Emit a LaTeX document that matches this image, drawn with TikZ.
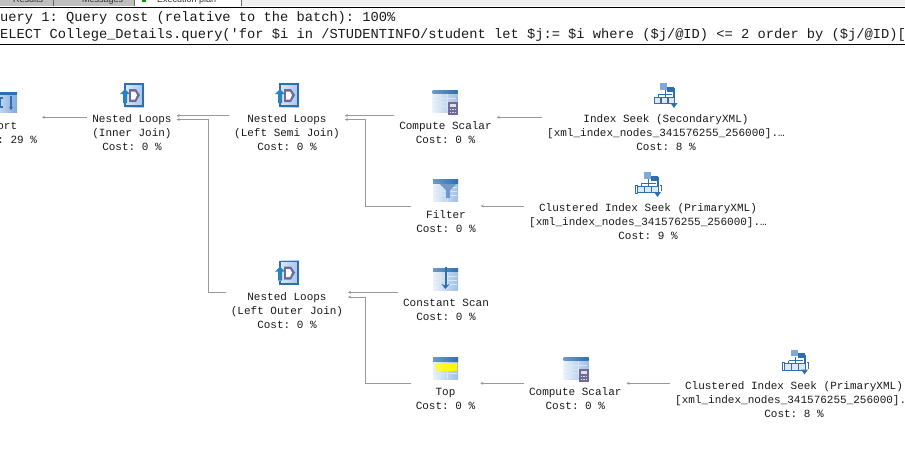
\documentclass[tikz,border=0pt]{standalone}
\usepackage{fontspec}
\setmainfont{Liberation Sans}
\setmonofont{Liberation Mono}
\usetikzlibrary{arrows.meta}
\definecolor{iconblue}{HTML}{2F6FB0}
\definecolor{iconlight}{HTML}{DCE9F7}
\definecolor{iconmid}{HTML}{7FA9DC}
\definecolor{iconviolet}{HTML}{6F6A9C}
\definecolor{flowgray}{HTML}{999999}
\tikzset{
  oplabel/.style={font=\ttfamily\fontsize{11}{14}\selectfont, align=center, inner sep=0pt, outer sep=5pt, text=black!90},
  sqltext/.style={font=\ttfamily\fontsize{13.72}{16}\selectfont, anchor=base west, inner sep=0pt, text=black!90},
  tabtext/.style={font=\fontsize{9}{10}\selectfont, anchor=base west, inner sep=0pt, text=black!80},
  flow/.style={draw=flowgray, line width=.8pt, -{Stealth[length=3pt,width=3pt]}},
  pics/loopicon/.style={code={
    \shade[left color=iconlight, right color=iconmid!70] (-7,-12) rectangle (12,12);
    \draw[iconblue, line width=1.6pt] (-7,-5) -- (-7,-11.2) -- (11.2,-11.2) -- (11.2,11.2) -- (-7,11.2) -- (-7,8);
    \fill[iconviolet] (-3,-6) -- (4,-6) -- (8,0) -- (4,7) -- (-3,7) -- cycle;
    \fill[white] (-1,-3.5) -- (3,-3.5) -- (5,0) -- (3,4.5) -- (-1,4.5) -- cycle;
    \fill[iconblue!85!cyan] (-12,-1) -- (-7,-6) -- (-2,-1) -- (-5,-1) -- (-5,8) -- (-9,8) -- (-9,-1) -- cycle;
  }},
  pics/tableicon/.style={code={
    \shade[left color=iconlight!60, right color=iconmid!75] (-12.5,-11) rectangle (12.5,11);
    \shade[left color=iconblue!70, right color=iconblue] (-12.5,-11) rectangle (12.5,-7.5);
    \foreach \gy in {-3,1,5} \draw[white!70!iconmid, line width=.5pt] (-11,\gy) -- (11,\gy);
    \foreach \gx in {-5,2} \draw[white!70!iconmid, line width=.5pt] (\gx,-7) -- (\gx,10);
  }},
  pics/calcicon/.style={code={
    \fill[iconviolet] (3,1) rectangle (13,14);
    \fill[black!12] (5,3) rectangle (11,6);
    \foreach \gy in {8.5,11.5} \draw[black!12, line width=1pt, dash pattern=on 1.5pt off 1pt] (4.5,\gy) -- (11.5,\gy);
  }},
  pics/treeicon/.style={code={
    \draw[iconblue, line width=1pt] (0,-5) -- (0,-1) (-7,-1) -- (7,-1) (-7,-1) -- (-7,2) (0,-1) -- (0,2);
    \draw[iconblue, line width=2pt] (9,-7) -- (9,8);
    \fill[iconmid] (-5,-12) rectangle (2,-5.5);
    \fill[iconblue] (2,-8.5) rectangle (9,-3.5);
    \foreach \tx in {-11,-4,3} {
      \fill[iconlight] (\tx,2) rectangle +(6.5,6.5);
      \draw[iconblue, line width=.5pt] (\tx,2) rectangle +(6.5,6.5);
    }
    \fill[iconblue] (5.5,8) -- (12.5,8) -- (9,13) -- cycle;
  }},
  pics/treebracket/.style={code={
    \draw[iconblue, line width=.8pt] (-11,1) -- (-13,1) -- (-13,9) -- (-11,9);
    \draw[iconblue, line width=.8pt] (11,1) -- (13,1) -- (13,7);
  }},
}
\begin{document}
\begin{tikzpicture}[x=1pt,y=-1pt]
  \useasboundingbox (0,0) rectangle (905,475);
  \clip (0,0) rectangle (905,475);

  % header %
  \fill[black!6] (0,0) rectangle (905,6);
  \fill[black!25] (0,0) rectangle (53,6);
  \fill[black!25] (54,0) rectangle (134,6);
  \fill[white] (135,0) rectangle (241,6);
  \draw[black!60, line width=.6pt] (53.5,0) -- (53.5,6) (134.5,0) -- (134.5,6) (241.5,0) -- (241.5,6);
  \fill[green!60!black] (142,0) rectangle (146,2);
  \node[tabtext] (tabres) at (13,2) {Results};
  \node[tabtext] (tabmsg) at (82,2) {Messages};
  \node[tabtext] (tabplan) at (157,2) {Execution plan};
  \draw[black, line width=1pt] (0,7) -- (905,7);
  \node[sqltext] (q1) at (-8.2,21.5) {Query 1: Query cost (relative to the batch): 100\%};
  \node[sqltext] (q2) at (-8.2,38.5) {SELECT College\_Details.query('for \$i in /STUDENTINFO/student let \$j:= \$i where (\$j/@ID) <= 2 order by (\$j/@ID)[};
  \draw[black, line width=.8pt] (0,44) -- (905,44);

  % icons %
  \shade[left color=iconlight, right color=iconmid] (-8,92) rectangle (17,112);
  \fill[iconblue] (-8,92) rectangle (17,95);
  \draw[iconblue, line width=1.2pt] (3,98) -- (0,98) -- (0,107) -- (3,107);
  \draw[iconblue, line width=1.5pt, -{Stealth[length=3pt,width=4pt]}] (11,96) -- (11,110);
  \pic at (132,95) {loopicon};
  \pic at (287,95) {loopicon};
  \pic at (287,272.5) {loopicon};
  \pic at (445,101) {tableicon};
  \pic at (445,101) {calcicon};
  \pic at (445.5,190.5) {tableicon};
  \fill[iconblue!70] (440,184) -- (456,184) -- (450,190) -- (450,198) -- (446,198) -- (446,190) -- cycle;
  \pic at (445.5,279) {tableicon};
  \draw[iconblue, line width=2pt, -{Stealth[length=5pt,width=8pt]}] (445.5,267) -- (445.5,289);
  \pic at (445.5,368.5) {tableicon};
  \shade[left color=yellow!80, right color=yellow!90!orange] (436,363) rectangle (457,370);
  \pic at (576,368) {tableicon};
  \pic at (576,368) {calcicon};
  \pic at (665,95) {treeicon};
  \pic at (648.5,184) {treeicon};
  \pic at (648.5,184) {treebracket};
  \pic at (795.5,361.5) {treeicon};
  \pic at (795.5,361.5) {treebracket};

  % nodes %
  \node[oplabel] (sort) at (4,132.5) {Sort\\Cost: 29 \%};
  \node[oplabel] (nl1) at (132,132.5) {Nested Loops\\(Inner Join)\\Cost: 0 \%};
  \node[oplabel] (nl2) at (287,132.5) {Nested Loops\\(Left Semi Join)\\Cost: 0 \%};
  \node[oplabel] (nl3) at (287,310.5) {Nested Loops\\(Left Outer Join)\\Cost: 0 \%};
  \node[oplabel] (cs1) at (445.5,132.5) {Compute Scalar\\Cost: 0 \%};
  \node[oplabel] (ft) at (446,221.5) {Filter\\Cost: 0 \%};
  \node[oplabel] (cn) at (446,309.5) {Constant Scan\\Cost: 0 \%};
  \node[oplabel] (tp) at (445.5,398.7) {Top\\Cost: 0 \%};
  \node[oplabel] (cs2) at (575.3,398.7) {Compute Scalar\\Cost: 0 \%};
  \node[oplabel] (ix) at (666,132.5) {Index Seek (SecondaryXML)\\{[}xml\_index\_nodes\_341576255\_256000{]}.…\\Cost: 8 \%};
  \node[oplabel] (ci1) at (648,221.5) {Clustered Index Seek (PrimaryXML)\\{[}xml\_index\_nodes\_341576255\_256000{]}.…\\Cost: 9 \%};
  \node[oplabel] (ci2) at (794,399.5) {Clustered Index Seek (PrimaryXML)\\{[}xml\_index\_nodes\_341576255\_256000{]}.…\\Cost: 8 \%};

  % rows and elbows %
  \coordinate (ra) at (0,117.3);
  \coordinate (raup) at (0,115.7);
  \coordinate (radn) at (0,119.5);
  \coordinate (rb) at (0,206);
  \coordinate (rcup) at (0,292.3);
  \coordinate (rcdn) at (0,297);
  \coordinate (rd) at (0,383.3);
  \coordinate (ea) at (208,0);
  \coordinate (eb) at (365,0);

  % edges %
  \draw[flow] (nl1.west |- ra) -- (sort.east |- ra);
  \draw[flow] (nl2.west |- raup) -- (nl1.east |- raup);
  \draw[flow] (nl3.west |- rcup) -- (ea |- rcup) -- (ea |- radn) -- (nl1.east |- radn);
  \draw[flow] (cs1.west |- raup) -- (nl2.east |- raup);
  \draw[flow] (ft.west |- rb) -- (eb |- rb) -- (eb |- radn) -- (nl2.east |- radn);
  \draw[flow] (ix.west |- ra) -- (cs1.east |- ra);
  \draw[flow] (ci1.west |- rb) -- (ft.east |- rb);
  \draw[flow] (cn.west |- rcup) -- (nl3.east |- rcup);
  \draw[flow] (tp.west |- rd) -- (eb |- rd) -- (eb |- rcdn) -- (nl3.east |- rcdn);
  \draw[flow] (cs2.west |- rd) -- (tp.east |- rd);
  \draw[flow] (ci2.west |- rd) -- (cs2.east |- rd);
\end{tikzpicture}
\end{document}
